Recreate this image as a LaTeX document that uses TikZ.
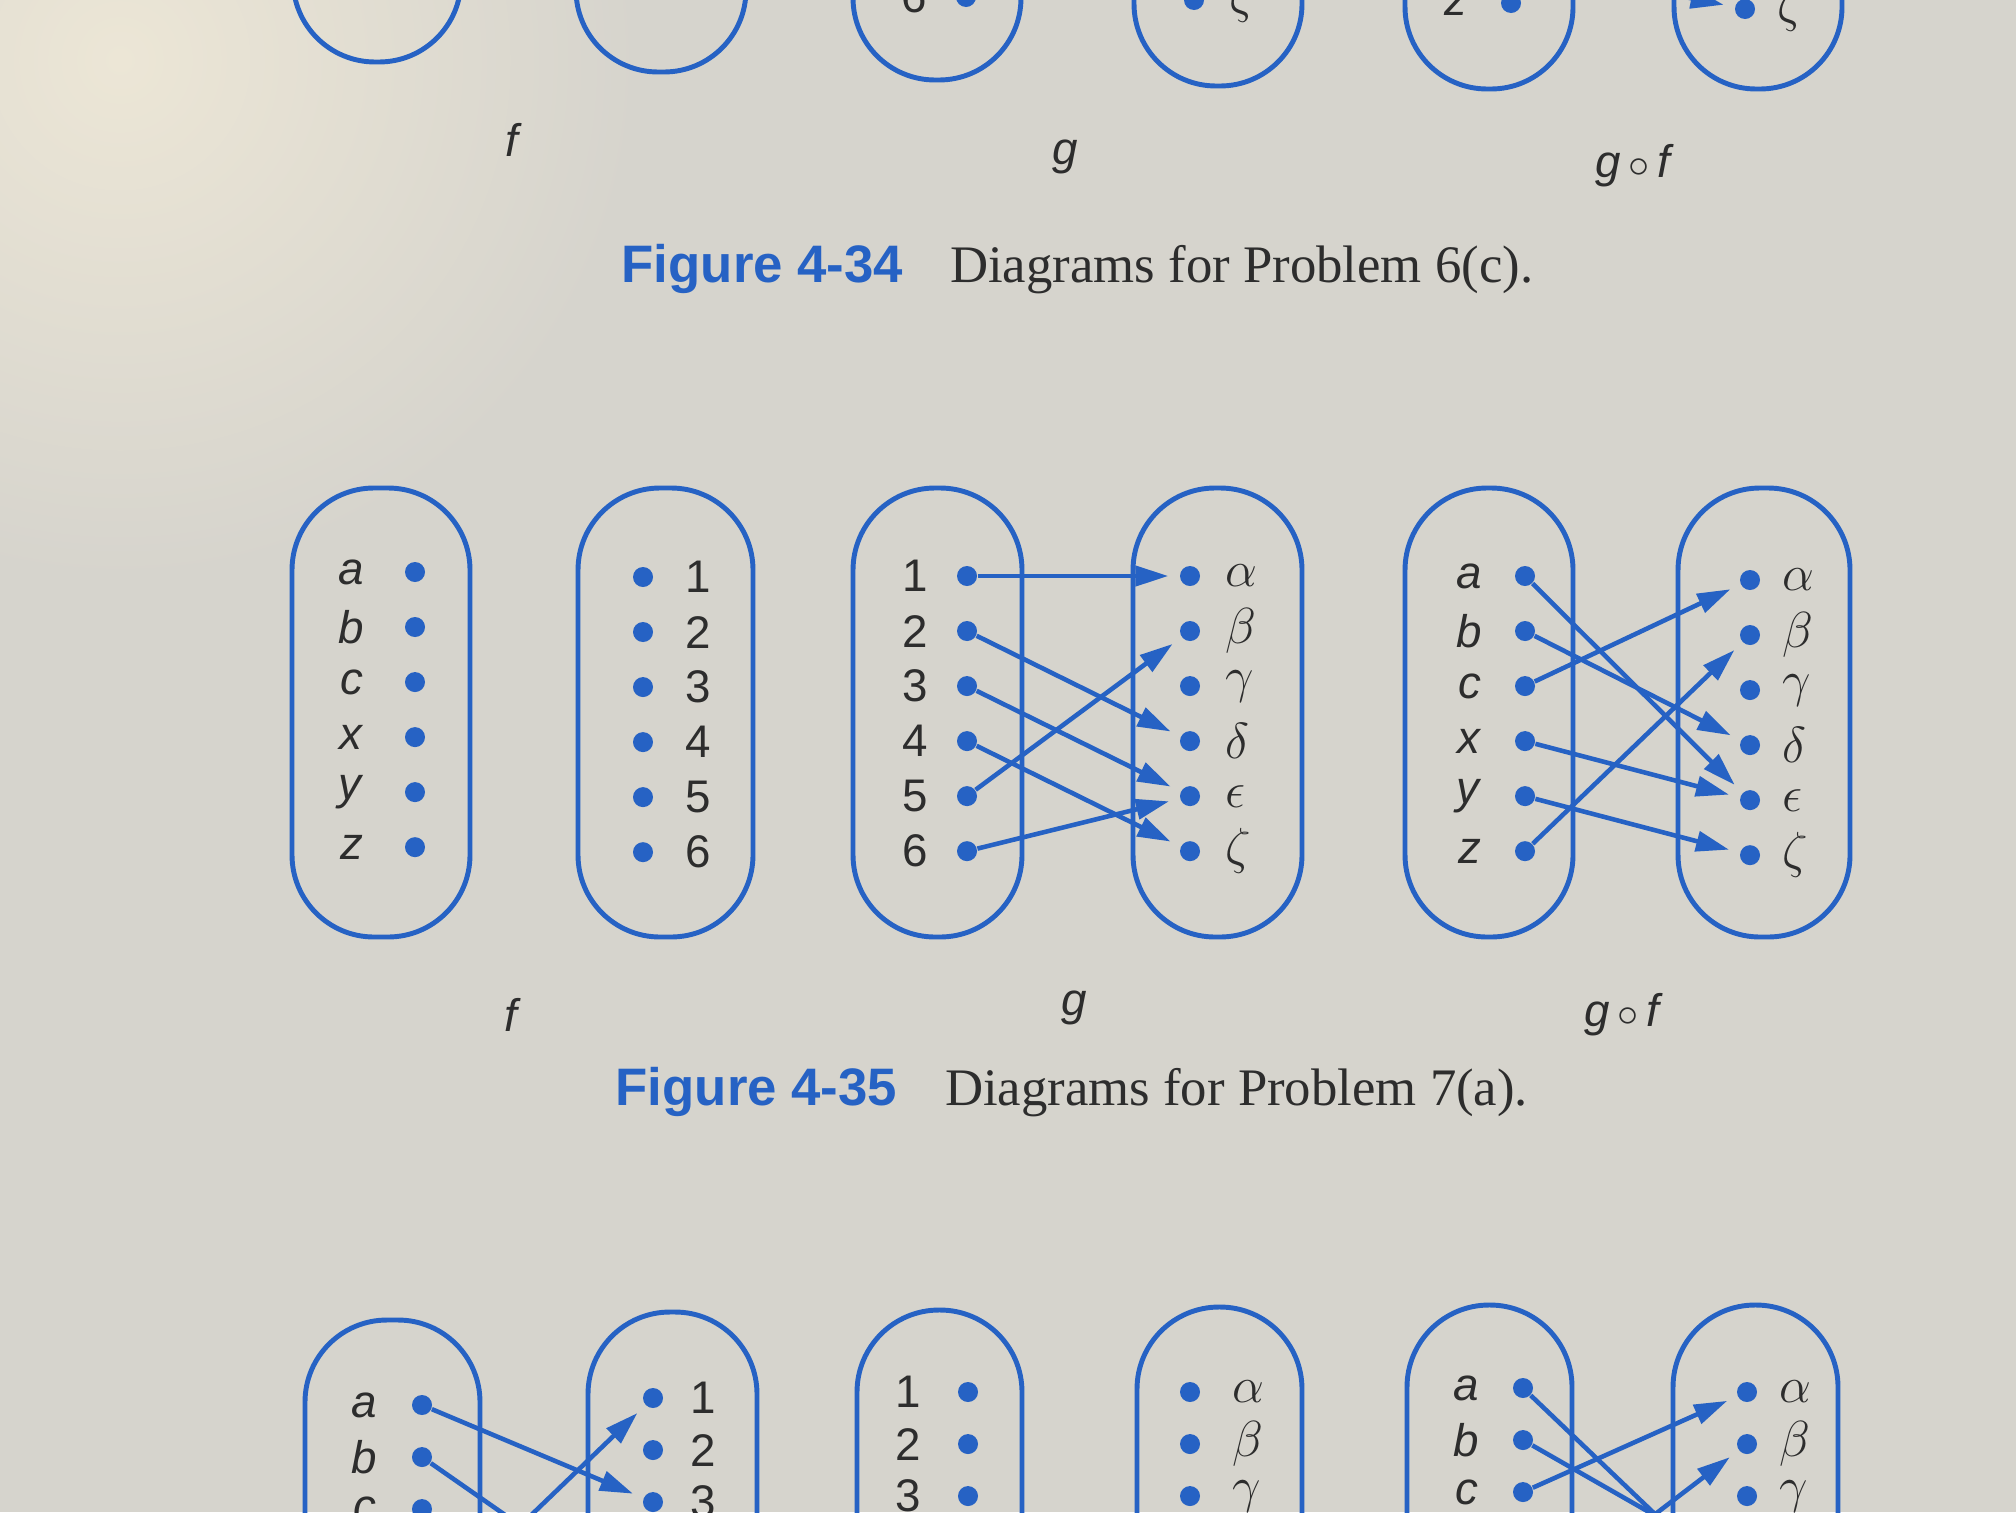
\documentclass[tikz,border=0pt]{standalone}
\usepackage{fontspec}
\setmainfont{Liberation Serif}
\setsansfont{Liberation Sans}
\usetikzlibrary{arrows.meta}
\definecolor{setblue}{RGB}{38,98,196}
\definecolor{ink}{RGB}{45,45,45}
\definecolor{paper}{RGB}{214,212,205}
\definecolor{glare}{RGB}{236,230,214}
\newcommand{\gk}[1]{{\fontsize{15}{17}\selectfont$#1$}}

\begin{document}
\begin{tikzpicture}[x=0.01cm, y=-0.01cm,
					node distance=5.5mm,
					setbox/.style={draw=setblue, line width=1.4pt, rounded corners=8.2mm},
					dot/.style={circle, fill=setblue, inner sep=0pt, minimum size=2mm},
					every label/.style={inner sep=0pt, text=ink, font=\sffamily\fontsize{13}{15}\selectfont},
					map/.style={-{Triangle[length=3.3mm,width=2mm]}, color=setblue, line width=1.3pt, shorten >=1.1mm},
					fname/.style={text=ink, font=\sffamily\itshape\fontsize{13}{15}\selectfont},
					caption/.style={anchor=west, inner sep=0pt, text=ink, font=\fontsize{15}{18}\selectfont}]

  \useasboundingbox (0,0) rectangle (2016,1512);
  \clip (0,0) rectangle (2016,1512);
  \fill[paper] (0,0) rectangle (2016,1512);
  \shade[inner color=glare, outer color=paper] (120,60) circle (520);

  % Figure 4-34, only the lower ends show
  \draw[setbox] (293,-500) rectangle (461,62);
  \draw[setbox] (576,-500) rectangle (746,72);
  \draw[setbox] (853,-500) rectangle (1021,80);
  \draw[setbox] (1134,-500) rectangle (1302,86);
  \draw[setbox] (1405,-500) rectangle (1573,89);
  \draw[setbox] (1674,-500) rectangle (1842,89);
  \node[dot, label={[label distance=2.8mm]left:6}] (u6) at (966,-3) {};
  \node[dot, label={[label distance=2.4mm]right:\gk{\zeta}}] (uzeta) at (1194,0) {};
  \node[dot, label={[label distance=3.2mm]left:\textit{z}}] (uz) at (1511,3) {};
  \node[dot, label={[label distance=2.1mm]right:\gk{\zeta}}] (vzeta) at (1745,9) {};
  \coordinate (vstart) at (1500,-40);
  \draw[map] (vstart) -- (vzeta);

  \node[fname] (ftop) at (512,140) {f};
  \node[fname] (gtop) at (1065,157) {g};
  \node[fname] (gftop) at (1633,166) {g\,$\circ$\,f};
  \node[caption] (cap34) at (621,269) {{\sffamily\bfseries\color{setblue}Figure 4-34}\hspace{4.7mm}Diagrams for Problem 6(c).};

  % Figure 4-35
  \draw[setbox] (292,488) rectangle (470,937);
  \draw[setbox] (578,488) rectangle (753,937);
  \draw[setbox] (853,488) rectangle (1022,937);
  \draw[setbox] (1133,488) rectangle (1302,937);
  \draw[setbox] (1405,488) rectangle (1573,937);
  \draw[setbox] (1678,488) rectangle (1850,937);

  \begin{scope}[label distance=4mm]
    \node[dot, label={left:\textit{a}}] (fa) at (415,572) {};
    \node[dot, label={left:\textit{b}}] (fb) [below of=fa] {};
    \node[dot, label={left:\textit{c}}] (fc) [below of=fb] {};
    \node[dot, label={left:\textit{x}}] (fx) [below of=fc] {};
    \node[dot, label={left:\textit{y}}] (fy) [below of=fx] {};
    \node[dot, label={left:\textit{z}}] (fz) [below of=fy] {};
  \end{scope}
  \begin{scope}[label distance=3.1mm]
    \node[dot, label={right:1}] (f1) at (643,577) {};
    \node[dot, label={right:2}] (f2) [below of=f1] {};
    \node[dot, label={right:3}] (f3) [below of=f2] {};
    \node[dot, label={right:4}] (f4) [below of=f3] {};
    \node[dot, label={right:5}] (f5) [below of=f4] {};
    \node[dot, label={right:6}] (f6) [below of=f5] {};
  \end{scope}

  \begin{scope}[label distance=2.8mm]
    \node[dot, label={left:1}] (g1) at (967,576) {};
    \node[dot, label={left:2}] (g2) [below of=g1] {};
    \node[dot, label={left:3}] (g3) [below of=g2] {};
    \node[dot, label={left:4}] (g4) [below of=g3] {};
    \node[dot, label={left:5}] (g5) [below of=g4] {};
    \node[dot, label={left:6}] (g6) [below of=g5] {};
  \end{scope}
  \begin{scope}[label distance=2.4mm]
    \node[dot, label={right:\gk{\alpha}}] (galpha) at (1190,576) {};
    \node[dot, label={right:\gk{\beta}}] (gbeta) [below of=galpha] {};
    \node[dot, label={right:\gk{\gamma}}] (ggamma) [below of=gbeta] {};
    \node[dot, label={right:\gk{\delta}}] (gdelta) [below of=ggamma] {};
    \node[dot, label={right:\gk{\epsilon}}] (geps) [below of=gdelta] {};
    \node[dot, label={right:\gk{\zeta}}] (gzeta) [below of=geps] {};
  \end{scope}

  \begin{scope}[label distance=3.2mm]
    \node[dot, label={left:\textit{a}}] (ha) at (1525,576) {};
    \node[dot, label={left:\textit{b}}] (hb) [below of=ha] {};
    \node[dot, label={left:\textit{c}}] (hc) [below of=hb] {};
    \node[dot, label={left:\textit{x}}] (hx) [below of=hc] {};
    \node[dot, label={left:\textit{y}}] (hy) [below of=hx] {};
    \node[dot, label={left:\textit{z}}] (hz) [below of=hy] {};
  \end{scope}
  \begin{scope}[label distance=2.1mm]
    \node[dot, label={right:\gk{\alpha}}] (halpha) at (1750,580) {};
    \node[dot, label={right:\gk{\beta}}] (hbeta) [below of=halpha] {};
    \node[dot, label={right:\gk{\gamma}}] (hgamma) [below of=hbeta] {};
    \node[dot, label={right:\gk{\delta}}] (hdelta) [below of=hgamma] {};
    \node[dot, label={right:\gk{\epsilon}}] (heps) [below of=hdelta] {};
    \node[dot, label={right:\gk{\zeta}}] (hzeta) [below of=heps] {};
  \end{scope}

  \path[map]
    (g1) edge (galpha)
    (g2) edge (gdelta)
    (g3) edge (geps)
    (g4) edge (gzeta)
    (g5) edge (gbeta)
    (g6) edge (geps);
  \path[map]
    (ha) edge (heps)
    (hb) edge (hdelta)
    (hc) edge (halpha)
    (hx) edge (heps)
    (hy) edge (hzeta)
    (hz) edge (hbeta);

  \node[fname] (fname) at (511,1015) {f};
  \node[fname] (gname) at (1074,1008) {g};
  \node[fname] (gfname) at (1622,1015) {g\,$\circ$\,f};
  \node[caption] (cap35) at (615,1092) {{\sffamily\bfseries\color{setblue}Figure 4-35}\hspace{4.8mm}Diagrams for Problem 7(a).};

  % next figure, only the upper ends show
  \draw[setbox] (305,1320) rectangle (480,2000);
  \draw[setbox] (588,1312) rectangle (757,2000);
  \draw[setbox] (857,1310) rectangle (1022,2000);
  \draw[setbox] (1137,1307) rectangle (1302,2000);
  \draw[setbox] (1407,1305) rectangle (1572,2000);
  \draw[setbox] (1673,1305) rectangle (1838,2000);

  \begin{scope}[node distance=5.2mm]
    \node[dot, label={[label distance=3.4mm]left:\textit{a}}] (pa) at (422,1405) {};
    \node[dot, label={[label distance=3.4mm]left:\textit{b}}] (pb) [below of=pa] {};
    \node[dot, label={[label distance=3.4mm]left:\textit{c}}] (pc) [below of=pb] {};
    \node[dot, label={[label distance=2.6mm]right:1}] (p1) at (653,1398) {};
    \node[dot, label={[label distance=2.6mm]right:2}] (p2) [below of=p1] {};
    \node[dot, label={[label distance=2.6mm]right:3}] (p3) [below of=p2] {};
    \node[dot, label={[label distance=3.6mm]left:1}] (q1) at (968,1392) {};
    \node[dot, label={[label distance=3.6mm]left:2}] (q2) [below of=q1] {};
    \node[dot, label={[label distance=3.6mm]left:3}] (q3) [below of=q2] {};
    \node[dot, label={[label distance=3.1mm]right:\gk{\alpha}}] (qalpha) at (1190,1392) {};
    \node[dot, label={[label distance=3.1mm]right:\gk{\beta}}] (qbeta) [below of=qalpha] {};
    \node[dot, label={[label distance=3.1mm]right:\gk{\gamma}}] (qgamma) [below of=qbeta] {};
    \node[dot, label={[label distance=3.3mm]left:\textit{a}}] (ra) at (1523,1388) {};
    \node[dot, label={[label distance=3.3mm]left:\textit{b}}] (rb) [below of=ra] {};
    \node[dot, label={[label distance=3.3mm]left:\textit{c}}] (rc) [below of=rb] {};
    \node[dot, label={[label distance=2.1mm]right:\gk{\alpha}}] (ralpha) at (1747,1392) {};
    \node[dot, label={[label distance=2.1mm]right:\gk{\beta}}] (rbeta) [below of=ralpha] {};
    \node[dot, label={[label distance=2.1mm]right:\gk{\gamma}}] (rgamma) [below of=rbeta] {};
  \end{scope}
  \coordinate (p5) at (653,1618);
  \coordinate (py) at (422,1620);
  \coordinate (reps) at (1747,1602);
  \coordinate (rdelta) at (1747,1568);
  \coordinate (ry) at (1523,1615);

  \path[map]
    (pa) edge (p3)
    (pb) edge (p5)
    (py) edge (p1);
  \path[map]
    (ra) edge (reps)
    (rb) edge (rdelta)
    (rc) edge (ralpha)
    (ry) edge (rbeta);
\end{tikzpicture}
\end{document}
